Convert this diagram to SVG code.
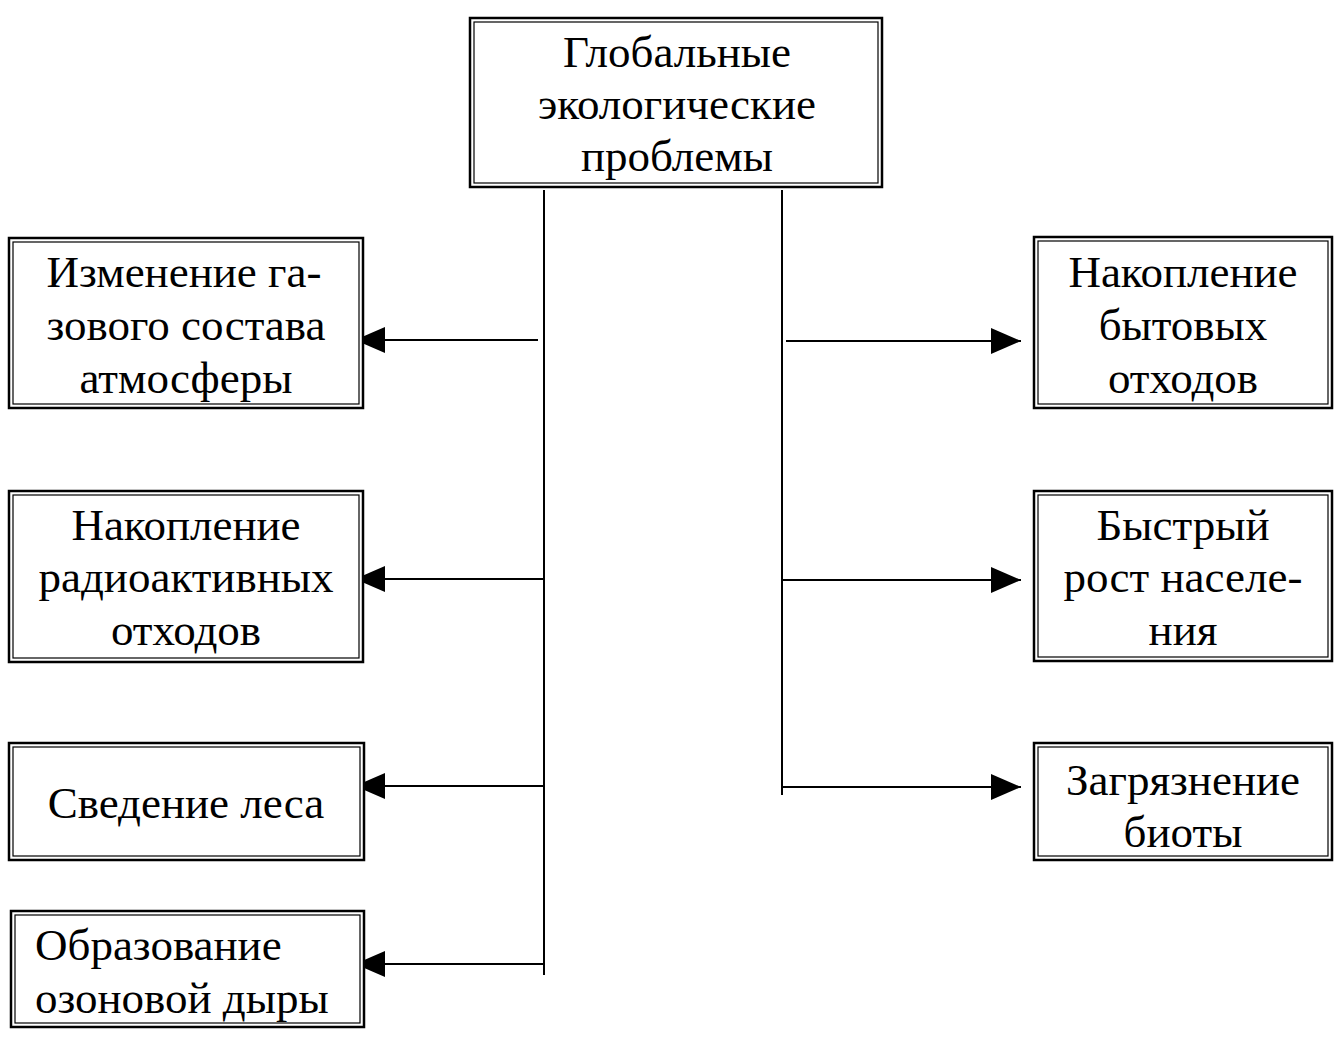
<svg xmlns="http://www.w3.org/2000/svg" width="1339" height="1038" viewBox="0 0 1339 1038">
<defs>
<style>
.o{fill:#fff;stroke:#000;stroke-width:2.5}
.i{fill:none;stroke:#000;stroke-width:1.2}
text{font-family:"Liberation Serif","Times New Roman",serif;font-size:45px;fill:#000}
.c{text-anchor:middle}
.ln{stroke:#000;stroke-width:2;fill:none}
</style>
<marker id="ah" viewBox="0 0 30 26" refX="30" refY="13" markerWidth="30" markerHeight="26" markerUnits="userSpaceOnUse" orient="auto">
<path d="M0,0 L30,13 L0,26 Z" fill="#000"/>
</marker>
</defs>
<rect width="1339" height="1038" fill="#fff"/>
<g id="connectors">
<line class="ln" x1="544" y1="190" x2="544" y2="975"/>
<line class="ln" x1="782" y1="190" x2="782" y2="795"/>
<line class="ln" x1="538" y1="340" x2="355" y2="340" marker-end="url(#ah)"/>
<line class="ln" x1="544" y1="579" x2="355" y2="579" marker-end="url(#ah)"/>
<line class="ln" x1="544" y1="786" x2="355" y2="786" marker-end="url(#ah)"/>
<line class="ln" x1="544" y1="964" x2="355" y2="964" marker-end="url(#ah)"/>
<line class="ln" x1="786" y1="341" x2="1021" y2="341" marker-end="url(#ah)"/>
<line class="ln" x1="782" y1="580" x2="1021" y2="580" marker-end="url(#ah)"/>
<line class="ln" x1="782" y1="787" x2="1021" y2="787" marker-end="url(#ah)"/>
</g>
<g id="top">
<rect class="o" x="470" y="18" width="412" height="169"/>
<rect class="i" x="474" y="22" width="404" height="161"/>
<text class="c" x="677" y="67">Глобальные</text>
<text class="c" x="677" y="119">экологические</text>
<text class="c" x="677" y="171">проблемы</text>
</g>
<g id="l1">
<rect class="o" x="9" y="238" width="354" height="170"/>
<rect class="i" x="13" y="242" width="346" height="162"/>
<text class="c" x="184" y="287">Изменение га-</text>
<text class="c" x="186" y="340">зового состава</text>
<text class="c" x="186" y="393">атмосферы</text>
</g>
<g id="l2">
<rect class="o" x="9" y="491" width="354" height="171"/>
<rect class="i" x="13" y="495" width="346" height="163"/>
<text class="c" x="186" y="540">Накопление</text>
<text class="c" x="186" y="592">радиоактивных</text>
<text class="c" x="186" y="645">отходов</text>
</g>
<g id="l3">
<rect class="o" x="9" y="743" width="355" height="117"/>
<rect class="i" x="13" y="747" width="347" height="109"/>
<text class="c" x="186" y="818">Сведение леса</text>
</g>
<g id="l4">
<rect class="o" x="11" y="911" width="353" height="116"/>
<rect class="i" x="15" y="915" width="345" height="108"/>
<text x="35" y="960">Образование</text>
<text x="35" y="1013">озоновой дыры</text>
</g>
<g id="r1">
<rect class="o" x="1034" y="237" width="298" height="171"/>
<rect class="i" x="1038" y="241" width="290" height="163"/>
<text class="c" x="1183" y="287">Накопление</text>
<text class="c" x="1183" y="340">бытовых</text>
<text class="c" x="1183" y="393">отходов</text>
</g>
<g id="r2">
<rect class="o" x="1034" y="491" width="298" height="170"/>
<rect class="i" x="1038" y="495" width="290" height="162"/>
<text class="c" x="1183" y="540">Быстрый</text>
<text class="c" x="1183" y="592">рост населе-</text>
<text class="c" x="1183" y="645">ния</text>
</g>
<g id="r3">
<rect class="o" x="1034" y="743" width="298" height="117"/>
<rect class="i" x="1038" y="747" width="290" height="109"/>
<text class="c" x="1183" y="795">Загрязнение</text>
<text class="c" x="1183" y="847">биоты</text>
</g>
</svg>
